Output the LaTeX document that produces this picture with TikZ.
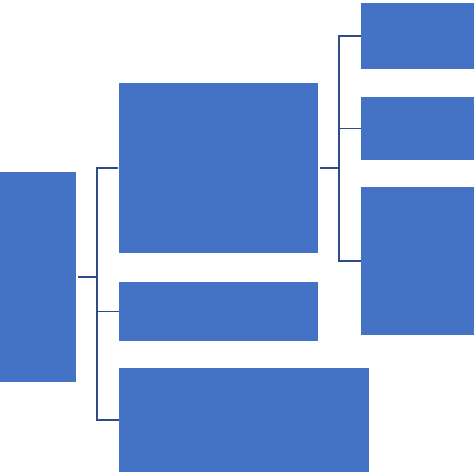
\documentclass[tikz,border=0pt]{standalone}
\definecolor{boxblue}{HTML}{4472C4}
\definecolor{lineblue}{HTML}{2F4B8A}
\begin{document}
\begin{tikzpicture}[x=1pt,y=-1pt,
  blk/.style={fill=boxblue,draw=none,inner sep=0pt,outer sep=0pt,anchor=north west},
  conn/.style={draw=lineblue,line width=1.8pt,line cap=butt,line join=miter}]
\useasboundingbox (0,0) rectangle (474,474);
\node[blk,minimum width=76pt,minimum height=210pt] (root) at (0,172) {};
\node[blk,minimum width=199pt,minimum height=170pt] (A) at (119,83) {};
\node[blk,minimum width=199pt,minimum height=59pt] (B) at (119,282) {};
\node[blk,minimum width=250pt,minimum height=104pt] (C) at (119,368) {};
\node[blk,minimum width=114pt,minimum height=66pt] (D) at (361,3) {};
\node[blk,minimum width=114pt,minimum height=63pt] (E) at (361,97) {};
\node[blk,minimum width=114pt,minimum height=148pt] (F) at (361,187) {};
\coordinate (j1) at (97,277);
\coordinate (j2) at (339,168);
\draw[conn,shorten <=2pt] (root.east) -- (j1);
\draw[conn,shorten <=1.5pt] (A.west) -- (A.west -| j1) -- (C.west -| j1) -- (C.west);
\draw[conn] (B.west -| j1) -- (B.west);
\draw[conn,shorten <=2pt] (A.east) -- (j2);
\draw[conn] (D.west) -- (D.west -| j2) -- (F.west -| j2) -- (F.west);
\draw[conn] (E.west -| j2) -- (E.west);
\end{tikzpicture}
\end{document}
